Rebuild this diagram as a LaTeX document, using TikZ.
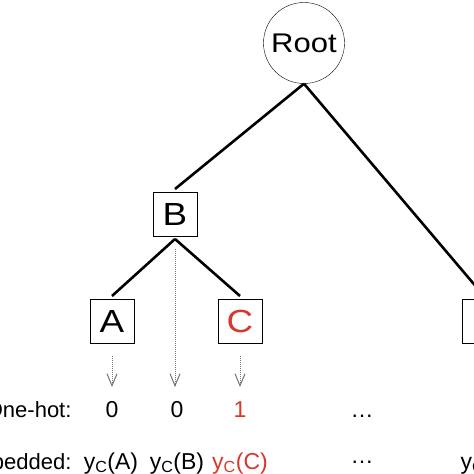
\documentclass[tikz,border=0pt]{standalone}
\usepackage{fontspec}
\setmainfont{Liberation Sans}
\newfontfamily\wideface{Liberation Sans}[FakeStretch=1.15]
\usepackage{xcolor}
\definecolor{Leaf Red}{HTML}{d6392b}
\colorlet{cRed}{Leaf Red}
\usetikzlibrary{positioning, arrows.meta}
\tikzset{
	line width = 1.8pt,
	root/.style={
		draw,
		circle,
		minimum size=81pt,
		inner sep=0pt,
		font=\wideface\fontsize{27}{27}\selectfont
	},
	leaf/.style={
		draw,
		rectangle,
		minimum size=44pt,
		inner sep=0pt,
		outer sep=3pt,
		font=\wideface\fontsize{32}{32}\selectfont
	},
	branch/.style={
		line width=2.6pt
	},
	pointer/.style={
		densely dotted,
		black!55,
		line width=1pt,
		shorten <=10pt,
		-{Straight Barb[length=12pt, width=10pt, line width=1pt]}
	},
	row/.style={
		anchor=base,
		font=\fontsize{23}{23}\selectfont
	},
	rowlabel/.style={
		anchor=base east,
		font=\fontsize{22}{22}\selectfont
	}
}

\begin{document}
\begin{tikzpicture}[x=1pt, y=-1pt]
\clip (0,0) rectangle (474,474);

% ---
% Tree
% ---
\node[root] (root) at (304,43) {Root};
\node[leaf] (B) at (175,214) {B};
\node[leaf] (A) at (112,321) {A};
\node[leaf, text=cRed] (C) at (240,321) {C};
\node[leaf] (D) at (484,321) {};

\draw[branch] (root.south) to (B.north);
\draw[branch] (root.south) to (D.north);
\foreach \i in {A, C} {
	\draw[branch] (B.south) to (\i.north);
};

% ---
% Pointers
% ---
\foreach \i/\x in {A/112, B/175, C/240} {
	\coordinate (\i-tip) at (\x,387);
	\draw[pointer] (\i.south) to (\i-tip);
};

% ---
% One-hot row
% ---
\node[rowlabel] (onehot) at (75,417) {One-hot:};
\node[row] (h-A) at (112,417) {0};
\node[row] (h-B) at (177,417) {0};
\node[row, text=cRed] (h-C) at (240,417) {1};
\node[row] (h-dots) at (362,417) {\ldots};

% ---
% Embedded row
% ---
\node[rowlabel] (embedded) at (75,469) {Embedded:};
\node[row] (e-A) at (111,469) {y\textsubscript{C}(A)};
\node[row] (e-B) at (177,469) {y\textsubscript{C}(B)};
\node[row, text=cRed] (e-C) at (240,469) {y\textsubscript{C}(C)};
\node[row] (e-dots) at (362,463) {\ldots};
\node[row, anchor=base west] (e-D) at (457,469) {y\textsubscript{C}(D)};
\end{tikzpicture}
\end{document}
